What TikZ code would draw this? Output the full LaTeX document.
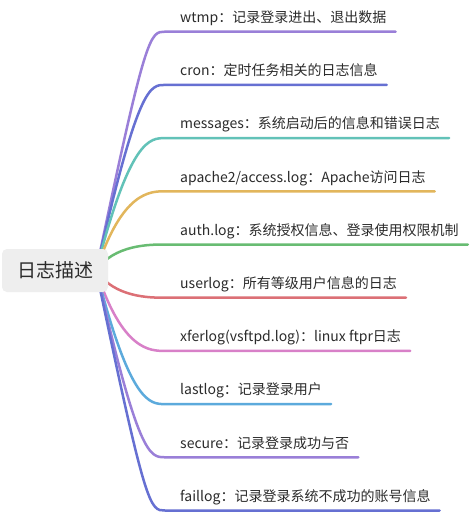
\documentclass[tikz,border=0pt]{standalone}
\usepackage{fontspec}
\setmainfont{Noto Sans CJK SC}
\usetikzlibrary{backgrounds}
\definecolor{cPurple}{HTML}{9A7FD8}
\definecolor{cBlue}{HTML}{6670D2}
\definecolor{cTeal}{HTML}{62C2B8}
\definecolor{cGold}{HTML}{E2B65C}
\definecolor{cGreen}{HTML}{68BC72}
\definecolor{cRed}{HTML}{DC7076}
\definecolor{cPink}{HTML}{D880C8}
\definecolor{cSky}{HTML}{5CAADC}
\definecolor{txt}{HTML}{2B2B2B}
\definecolor{rootfill}{HTML}{EEEEEE}
\begin{document}
\begin{tikzpicture}[x=1pt,y=1pt,
  rootbox/.style={fill=rootfill, rounded corners=5pt, minimum width=106pt, minimum height=43pt, inner sep=0pt, font=\fontsize{19}{19}\selectfont, text=txt},
  leaf/.style={anchor=south west, inner xsep=0pt, inner ysep=0pt, text depth=9pt, font=\fontsize{14}{14}\selectfont, text=txt},
  branch/.style={line width=2.5pt, line cap=round}]
\useasboundingbox (0,0) rectangle (474,-513);
\node[rootbox] (root) at (55,-270.5) {日志描述};
\coordinate (hub) at ([xshift=-12pt]root.east);
\node[leaf] (l1) at (165,-31.7) {\hspace*{15pt}wtmp：记录登录进出、退出数据\hspace*{9pt}};
\node[leaf] (l2) at (165,-84.9) {\hspace*{15pt}cron：定时任务相关的日志信息\hspace*{9pt}};
\node[leaf] (l3) at (165,-138.1) {\hspace*{15pt}messages：系统启动后的信息和错误日志\hspace*{9pt}};
\node[leaf] (l4) at (165,-191.3) {\hspace*{15pt}apache2/access.log：Apache访问日志\hspace*{9pt}};
\node[leaf] (l5) at (165,-244.5) {\hspace*{15pt}auth.log：系统授权信息、登录使用权限机制\hspace*{9pt}};
\node[leaf] (l6) at (165,-297.7) {\hspace*{15pt}userlog：所有等级用户信息的日志\hspace*{9pt}};
\node[leaf] (l7) at (165,-350.9) {\hspace*{15pt}xferlog(vsftpd.log)：linux ftpr日志\hspace*{9pt}};
\node[leaf] (l8) at (165,-404.1) {\hspace*{15pt}lastlog：记录登录用户\hspace*{9pt}};
\node[leaf] (l9) at (165,-457.3) {\hspace*{15pt}secure：记录登录成功与否\hspace*{9pt}};
\node[leaf] (l10) at (165,-510.5) {\hspace*{15pt}faillog：记录登录系统不成功的账号信息\hspace*{9pt}};
\begin{scope}[on background layer]
\fill[white] (0,0) rectangle (474,-513);
\draw[branch, cPurple] (hub) .. controls +(49.8,238.8) and +(-15,0) .. (l1.south west) -- (l1.south east);
\draw[branch, cBlue] (hub) .. controls +(41.8,185.6) and +(-15,0) .. (l2.south west) -- (l2.south east);
\draw[branch, cTeal] (hub) .. controls +(33.9,132.4) and +(-15,0) .. (l3.south west) -- (l3.south east);
\draw[branch, cGold] (hub) .. controls +(25.9,79.2) and +(-15,0) .. (l4.south west) -- (l4.south east);
\draw[branch, cGreen] (hub) .. controls +(17.9,26) and +(-15,0) .. (l5.south west) -- (l5.south east);
\draw[branch, cRed] (hub) .. controls +(18.1,-27.2) and +(-15,0) .. (l6.south west) -- (l6.south east);
\draw[branch, cPink] (hub) .. controls +(26.1,-80.4) and +(-15,0) .. (l7.south west) -- (l7.south east);
\draw[branch, cSky] (hub) .. controls +(34,-133.6) and +(-15,0) .. (l8.south west) -- (l8.south east);
\draw[branch, cPurple] (hub) .. controls +(42,-186.8) and +(-15,0) .. (l9.south west) -- (l9.south east);
\draw[branch, cBlue] (hub) .. controls +(50,-240) and +(-15,0) .. (l10.south west) -- (l10.south east);
\end{scope}
\end{tikzpicture}
\end{document}
